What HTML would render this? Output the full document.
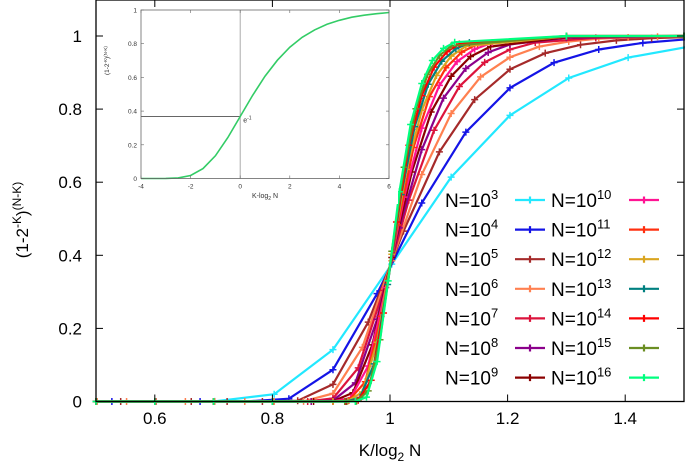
<!DOCTYPE html>
<html><head><meta charset="utf-8"><style>
body{margin:0;background:#fff;}
svg{display:block;font-family:"Liberation Sans",Arial,sans-serif;}
</style></head><body>
<svg id="chart" width="685" height="470" viewBox="0 0 685 470" xmlns="http://www.w3.org/2000/svg">
<rect x="0" y="0" width="685" height="470" fill="#fff"/>
<g id="series"></g>
<g id="inset"></g>
<g id="axes"></g>
<g id="legend"></g>
</svg>
<script>
const seriesNames=["N=10^3","N=10^4","N=10^5","N=10^6","N=10^7","N=10^8","N=10^9","N=10^10","N=10^11","N=10^12","N=10^13","N=10^14","N=10^15","N=10^16"];
const seriesColors=["#22e8ff","#1414e6","#a52a2a","#ff8050","#dc143c","#8b008b","#8b0000","#ff1493","#ff3010","#daa520","#008080","#ff0000","#6b8e23","#00ff7f"];
const xs3=[0.502,0.602,0.702,0.803,0.903,1.003,1.104,1.204,1.304,1.405,1.505];
const ys3=[0,0,0.0004,0.02,0.142,0.376,0.614,0.783,0.885,0.941,0.970];
const xs4=[0.527,0.602,0.677,0.753,0.828,0.903,0.978,1.054,1.129,1.204,1.279,1.355,1.430,1.505];
const ys4=[0,0,0,0,0.0076,0.087,0.295,0.543,0.737,0.858,0.927,0.963,0.981,0.991];
const xs5=[0.542,0.602,0.662,0.723,0.783,0.843,0.903,0.963,1.023,1.084,1.144,1.204,1.264,1.324,1.385,1.445,1.505];
const ys5=[0,0,0,0,0,0.0022,0.047,0.217,0.466,0.683,0.826,0.909,0.953,0.976,0.988,0.994,0.997];
const xs6=[0.502,0.552,0.602,0.652,0.702,0.753,0.803,0.853,0.903,0.953,1.003,1.054,1.104,1.154,1.204,1.254,1.304,1.355,1.405,1.455,1.505];
const ys6=[0,0,0,0,0,0,0,0.0005,0.022,0.148,0.385,0.621,0.788,0.888,0.942,0.971,0.985,0.993,0.996,0.998,0.999];
const xs7=[0.5,0.6,0.7,0.8,0.860,0.903,0.946,0.989,1.032,1.075,1.118,1.161,1.204,1.247,1.35,1.5];
const ys7=[0,0,0,0,0.0001,0.0085,0.092,0.304,0.551,0.742,0.862,0.928,0.963,0.982,0.995,0.999];
const xs8=[0.5,0.6,0.7,0.8,0.866,0.903,0.941,0.978,1.016,1.054,1.091,1.129,1.167,1.204,1.3,1.5];
const ys8=[0,0,0,0,0,0.0026,0.051,0.225,0.475,0.689,0.830,0.911,0.955,0.977,0.995,1];
const xs9=[0.5,0.6,0.7,0.8,0.870,0.903,0.937,0.970,1.003,1.037,1.070,1.104,1.137,1.171,1.3,1.5];
const ys9=[0,0,0,0,0,0.0006,0.024,0.155,0.394,0.628,0.792,0.890,0.944,0.971,0.997,1];
const xs10=[0.5,0.6,0.7,0.8,0.903,0.933,0.963,0.993,1.024,1.054,1.084,1.114,1.144,1.174,1.3,1.5];
const ys10=[0,0,0,0,0.0001,0.0095,0.097,0.312,0.559,0.748,0.865,0.930,0.964,0.982,0.998,1];
const xs11=[0.5,0.6,0.7,0.8,0.903,0.930,0.958,0.985,1.013,1.040,1.067,1.095,1.122,1.149,1.3,1.5];
const ys11=[0,0,0,0,0,0.003,0.054,0.233,0.483,0.695,0.834,0.913,0.956,0.978,0.999,1];
const xs12=[0.5,0.6,0.7,0.8,0.903,0.928,0.953,0.978,1.003,1.028,1.054,1.079,1.104,1.129,1.3,1.5];
const ys12=[0,0,0,0,0,0.0007,0.026,0.162,0.403,0.635,0.797,0.892,0.945,0.972,0.999,1];
const xs13=[0.5,0.6,0.7,0.8,0.926,0.949,0.973,0.996,1.019,1.042,1.065,1.088,1.112,1.135,1.3,1.5];
const ys13=[0,0,0,0,0.0001,0.0106,0.103,0.320,0.566,0.752,0.868,0.931,0.965,0.982,0.999,1];
const xs14=[0.5,0.6,0.7,0.8,0.925,0.946,0.968,0.989,1.011,1.032,1.054,1.075,1.097,1.118,1.3,1.5];
const ys14=[0,0,0,0,0,0.0034,0.058,0.242,0.491,0.701,0.837,0.915,0.957,0.978,1,1];
const xs15=[0.5,0.6,0.7,0.8,0.923,0.943,0.963,0.983,1.003,1.024,1.044,1.064,1.084,1.104,1.3,1.5];
const ys15=[0,0,0,0,0,0.0008,0.029,0.169,0.411,0.641,0.801,0.895,0.946,0.973,1,1];
const xs16=[0.5,0.6,0.7,0.8,0.941,0.960,0.978,0.997,1.016,1.035,1.054,1.072,1.091,1.110,1.3,1.5];
const ys16=[0,0,0,0,0.0001,0.0118,0.109,0.330,0.574,0.758,0.870,0.933,0.966,0.983,1,1];
const seriesX=[xs3,xs4,xs5,xs6,xs7,xs8,xs9,xs10,xs11,xs12,xs13,xs14,xs15,xs16];
const seriesY=[ys3,ys4,ys5,ys6,ys7,ys8,ys9,ys10,ys11,ys12,ys13,ys14,ys15,ys16];
const xTicks=[0.6,0.8,1,1.2,1.4];
const xTickLabels=["0.6","0.8","1","1.2","1.4"];
const yTicks=[0,0.2,0.4,0.6,0.8,1];
const yTickLabels=["0","0.2","0.4","0.6","0.8","1"];
const insetU=[-4,-3.5,-3,-2.5,-2,-1.5,-1,-0.5,0,0.5,1,1.5,2,2.5,3,3.5,4,4.5,5,5.5,6];
const insetV=[0,0.00001,0.0003,0.0035,0.018,0.059,0.135,0.243,0.368,0.493,0.607,0.702,0.779,0.838,0.882,0.915,0.939,0.957,0.969,0.978,0.985];
const insetXTicks=[-4,-2,0,2,4,6];
const insetYTicks=[0,0.2,0.4,0.6,0.8,1];

const NS="http://www.w3.org/2000/svg";
function mk(tag,attrs,parent){const e=document.createElementNS(NS,tag);for(const k in attrs)e.setAttribute(k,attrs[k]);parent.appendChild(e);return e;}
const L=96,R=684,T=0,B=401.5;
const xS=v=>L+(v-0.5)*(R-L);
const yS=v=>B-v*365.5;
const sg=document.getElementById('series');
seriesX.forEach((xa,i)=>{
  const g=mk('g',{},sg);
  
  
  const pts=xa.map((x,j)=>xS(x).toFixed(1)+','+yS(seriesY[i][j]).toFixed(1)).join(' ');
  const pl=mk('polyline',{points:pts,fill:'none',stroke:seriesColors[i],'stroke-width':2.2},g);
  
  
  xa.forEach((x,j)=>{
    const cx=xS(x),cy=yS(seriesY[i][j]);
    if(cx<L-1||cx>R+1)return;
    const m=mk('path',{d:`M${cx-3.5},${cy}h7M${cx},${cy-3.5}v7`,stroke:seriesColors[i],'stroke-width':1.5},g);
    
    
  });
});
// inset
const ig=document.getElementById('inset');
const IL=141,IR=389,IT=10,IB=178.5;
const ixS=u=>IL+(u+4)/10*(IR-IL);
const iyS=v=>IB-v*(IB-IT);
const ibg=mk('rect',{x:98,y:2,width:300,height:202,fill:'#fff'},ig);


const vl=mk('line',{x1:ixS(0),y1:IT,x2:ixS(0),y2:IB,stroke:'#aaa','stroke-width':1},ig);


const hl=mk('line',{x1:IL,y1:iyS(0.368),x2:ixS(0),y2:iyS(0.368),stroke:'#333','stroke-width':0.8},ig);


const ic=mk('polyline',{points:insetU.map((u,j)=>ixS(u).toFixed(1)+','+iyS(insetV[j]).toFixed(1)).join(' '),fill:'none',stroke:'#33cc66','stroke-width':1.6},ig);


const ifr=mk('rect',{x:IL,y:IT,width:IR-IL,height:IB-IT,fill:'none',stroke:'#666','stroke-width':0.8},ig);


insetXTicks.forEach(t=>{
  const x=ixS(t);
  mk('line',{x1:x,y1:IB,x2:x,y2:IB-3,stroke:'#666','stroke-width':0.6},ig);
  mk('line',{x1:x,y1:IT,x2:x,y2:IT+3,stroke:'#666','stroke-width':0.6},ig);
  const tx=mk('text',{x:x,y:IB+10,'font-size':6.5,'text-anchor':'middle',fill:'#333'},ig);
  tx.textContent=String(t);
  
  
});
insetYTicks.forEach(t=>{
  const y=iyS(t);
  mk('line',{x1:IL,y1:y,x2:IL+3,y2:y,stroke:'#666','stroke-width':0.6},ig);
  mk('line',{x1:IR,y1:y,x2:IR-3,y2:y,stroke:'#666','stroke-width':0.6},ig);
  const tx=mk('text',{x:IL-4,y:y+2.5,'font-size':6.5,'text-anchor':'end',fill:'#333'},ig);
  tx.textContent=String(t);
  
  
});
const el=mk('text',{x:ixS(0)+3,y:iyS(0.368)+6,'font-size':7,fill:'#333'},ig);
el.innerHTML='e<tspan dy="-3" font-size="5">-1</tspan>';


const ixl=mk('text',{x:ixS(1),y:198,'font-size':7,'text-anchor':'middle',fill:'#333'},ig);
ixl.innerHTML='K-log<tspan dy="2" font-size="5">2</tspan><tspan dy="-2"> N</tspan>';


const iyl=mk('text',{transform:`translate(109,${iyS(0.7)}) rotate(-90)`,'font-size':6.5,'text-anchor':'middle',fill:'#333'},ig);
iyl.innerHTML='(1-2<tspan dy="-2" font-size="4.5">-K</tspan><tspan dy="2">)</tspan><tspan dy="-2" font-size="4.5">(N-K)</tspan>';


// axes
const ag=document.getElementById('axes');
const fr=mk('rect',{x:L,y:T,width:R-L,height:B-T,fill:'none',stroke:'#000','stroke-width':1.3},ag);


xTicks.forEach((t,i)=>{
  const x=xS(t);
  mk('line',{x1:x,y1:B,x2:x,y2:B-7,stroke:'#000','stroke-width':1},ag);
  mk('line',{x1:x,y1:T,x2:x,y2:T+7,stroke:'#000','stroke-width':1},ag);
  const tx=mk('text',{x:x,y:424,'font-size':17,'text-anchor':'middle'},ag);
  tx.textContent=xTickLabels[i];
  
  
});
yTicks.forEach((t,i)=>{
  const y=yS(t);
  mk('line',{x1:L,y1:y,x2:L+7,y2:y,stroke:'#000','stroke-width':1},ag);
  mk('line',{x1:R,y1:y,x2:R-7,y2:y,stroke:'#000','stroke-width':1},ag);
  const tx=mk('text',{x:82,y:y+6,'font-size':17,'text-anchor':'end'},ag);
  tx.textContent=yTickLabels[i];
  
  
});
const xl=mk('text',{x:390,y:456,'font-size':17,'text-anchor':'middle'},ag);
xl.innerHTML='K/log<tspan dy="5" font-size="12">2</tspan><tspan dy="-5"> N</tspan>';


const yl=mk('text',{transform:'translate(28,220) rotate(-90)','font-size':17,'text-anchor':'middle'},ag);
yl.innerHTML='(1-2<tspan dy="-7" font-size="12">-K</tspan><tspan dy="7">)</tspan><tspan dy="-7" font-size="12">(N-K)</tspan>';


// legend
const lg=document.getElementById('legend');
seriesNames.forEach((n,i)=>{
  const col=i<7?0:1,row=i%7;
  const cy=200+row*29.6;
  const tx0=col?551:445, lx=col?629:515;
  const g=mk('g',{},lg);
  
  
  const t=mk('text',{x:tx0,y:cy+7,'font-size':19},g);
  t.innerHTML='N=10<tspan dy="-8" font-size="13">'+n.split('^')[1]+'</tspan>';
  
  
  const ln=mk('path',{d:`M${lx},${cy}h30M${lx+15},${cy-3.5}v7`,stroke:seriesColors[i],'stroke-width':2.2},g);
  
  
});
</script>
</body></html>
